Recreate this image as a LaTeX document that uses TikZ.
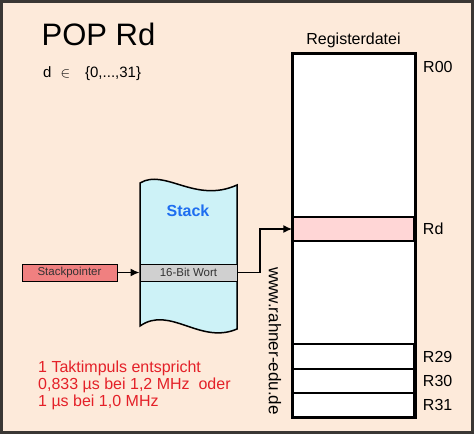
\documentclass[tikz,border=0pt]{standalone}
\usepackage{fontspec}
\setmainfont{Liberation Sans}
\usepackage{tikz}
\usetikzlibrary{arrows, arrows.meta, positioning}
\definecolor{bgpeach}{RGB}{253,234,218}
\definecolor{frame}{RGB}{58,55,52}
\definecolor{stackcyan}{RGB}{205,242,247}
\definecolor{spred}{RGB}{240,128,128}
\definecolor{rdpink}{RGB}{255,214,214}
\definecolor{wordgray}{RGB}{208,208,208}
\definecolor{stackblue}{RGB}{30,110,240}
\definecolor{notered}{RGB}{228,32,40}

\begin{document}
\begin{tikzpicture}[>={Latex[length=9pt,width=8pt]}, x=1pt, y=-1pt,
	rowbox/.style={draw, line width=1.5pt, minimum width=121pt, inner sep=0pt},
	reglbl/.style={font=\fontsize{16}{16}\selectfont, inner sep=0pt}]
			\useasboundingbox (0,0) rectangle (474,434);
			\draw[line width=3pt, draw=frame, fill=bgpeach] (1.5,1.5) rectangle (472.5,432.5);
			% heading
			\node[font=\fontsize{31}{31}\selectfont, inner sep=0pt] (title) at (98.5,34.5) {POP Rd};
			\node[font=\fontsize{15}{15}\selectfont, anchor=west, inner sep=0pt] (range) at (43,74) {d\hspace{9pt}$\in$\hspace{15pt}\{0,...,31\}};
			% stack
			\draw[line width=1.5pt, fill=stackcyan] (140,183) .. controls (165,168) and (195,204) .. (237,185)
				-- (237,329) .. controls (200,345) and (170,305) .. (140,326) -- cycle;
			\node[font=\fontsize{16}{16}\selectfont\bfseries, text=stackblue] (stack) at (188,211) {Stack};
			\node[draw, line width=1pt, fill=wordgray, text=black!80, minimum width=97pt, minimum height=17pt, inner sep=0pt, font=\fontsize{11.5}{12}\selectfont] (word) at (188.5,272.5) {16-Bit Wort};
			\node[draw, line width=0.8pt, fill=spred, text=black!80, minimum width=95pt, minimum height=17pt, inner sep=0pt, font=\fontsize{11.5}{12}\selectfont] (sp) at (69.5,272.5) {Stackpointer};
			% register file
			\node[draw, line width=3pt, fill=white, minimum width=123pt, minimum height=364pt, inner sep=0pt] (regs) at (353.5,235) {};
			\node[reglbl, above=3.5pt of regs] (regtitle) {Registerdatei};
			\node[rowbox, fill=rdpink, minimum height=24pt] (rd) at (353.5,229) {};
			\node[rowbox, minimum height=25pt] (r29) at (353.5,356.5) {};
			\node[rowbox, minimum height=24pt] (r30) at (353.5,381) {};
			\node[rowbox, minimum height=24pt] (r31) at (353.5,405) {};
			\node[reglbl, anchor=west] (l00) at (423,67) {R00};
			\node[reglbl, right=8pt of rd] (lrd) {Rd};
			\node[reglbl, right=8pt of r29] (l29) {R29};
			\node[reglbl, right=8pt of r30] (l30) {R30};
			\node[reglbl, right=8pt of r31] (l31) {R31};
			\path[->, line width=1.5pt]
			(sp) edge (word)
			;
			\draw[->, line width=1.5pt] (word.east) -- ++(22.5,0) |- (rd.west);
			% texts
			\node[rotate=-90, font=\fontsize{17}{17}\selectfont, inner sep=0pt] (url) at (275,341) {www.rahner-edu.de};
			\node[anchor=north west, align=left, text=notered, font=\fontsize{16}{17}\selectfont, inner sep=0pt] (note) at (38,361) {1 Taktimpuls entspricht\\0,833 µs bei 1,2 MHz\ \ oder\\1 µs bei 1,0 MHz};
		\end{tikzpicture}
\end{document}
